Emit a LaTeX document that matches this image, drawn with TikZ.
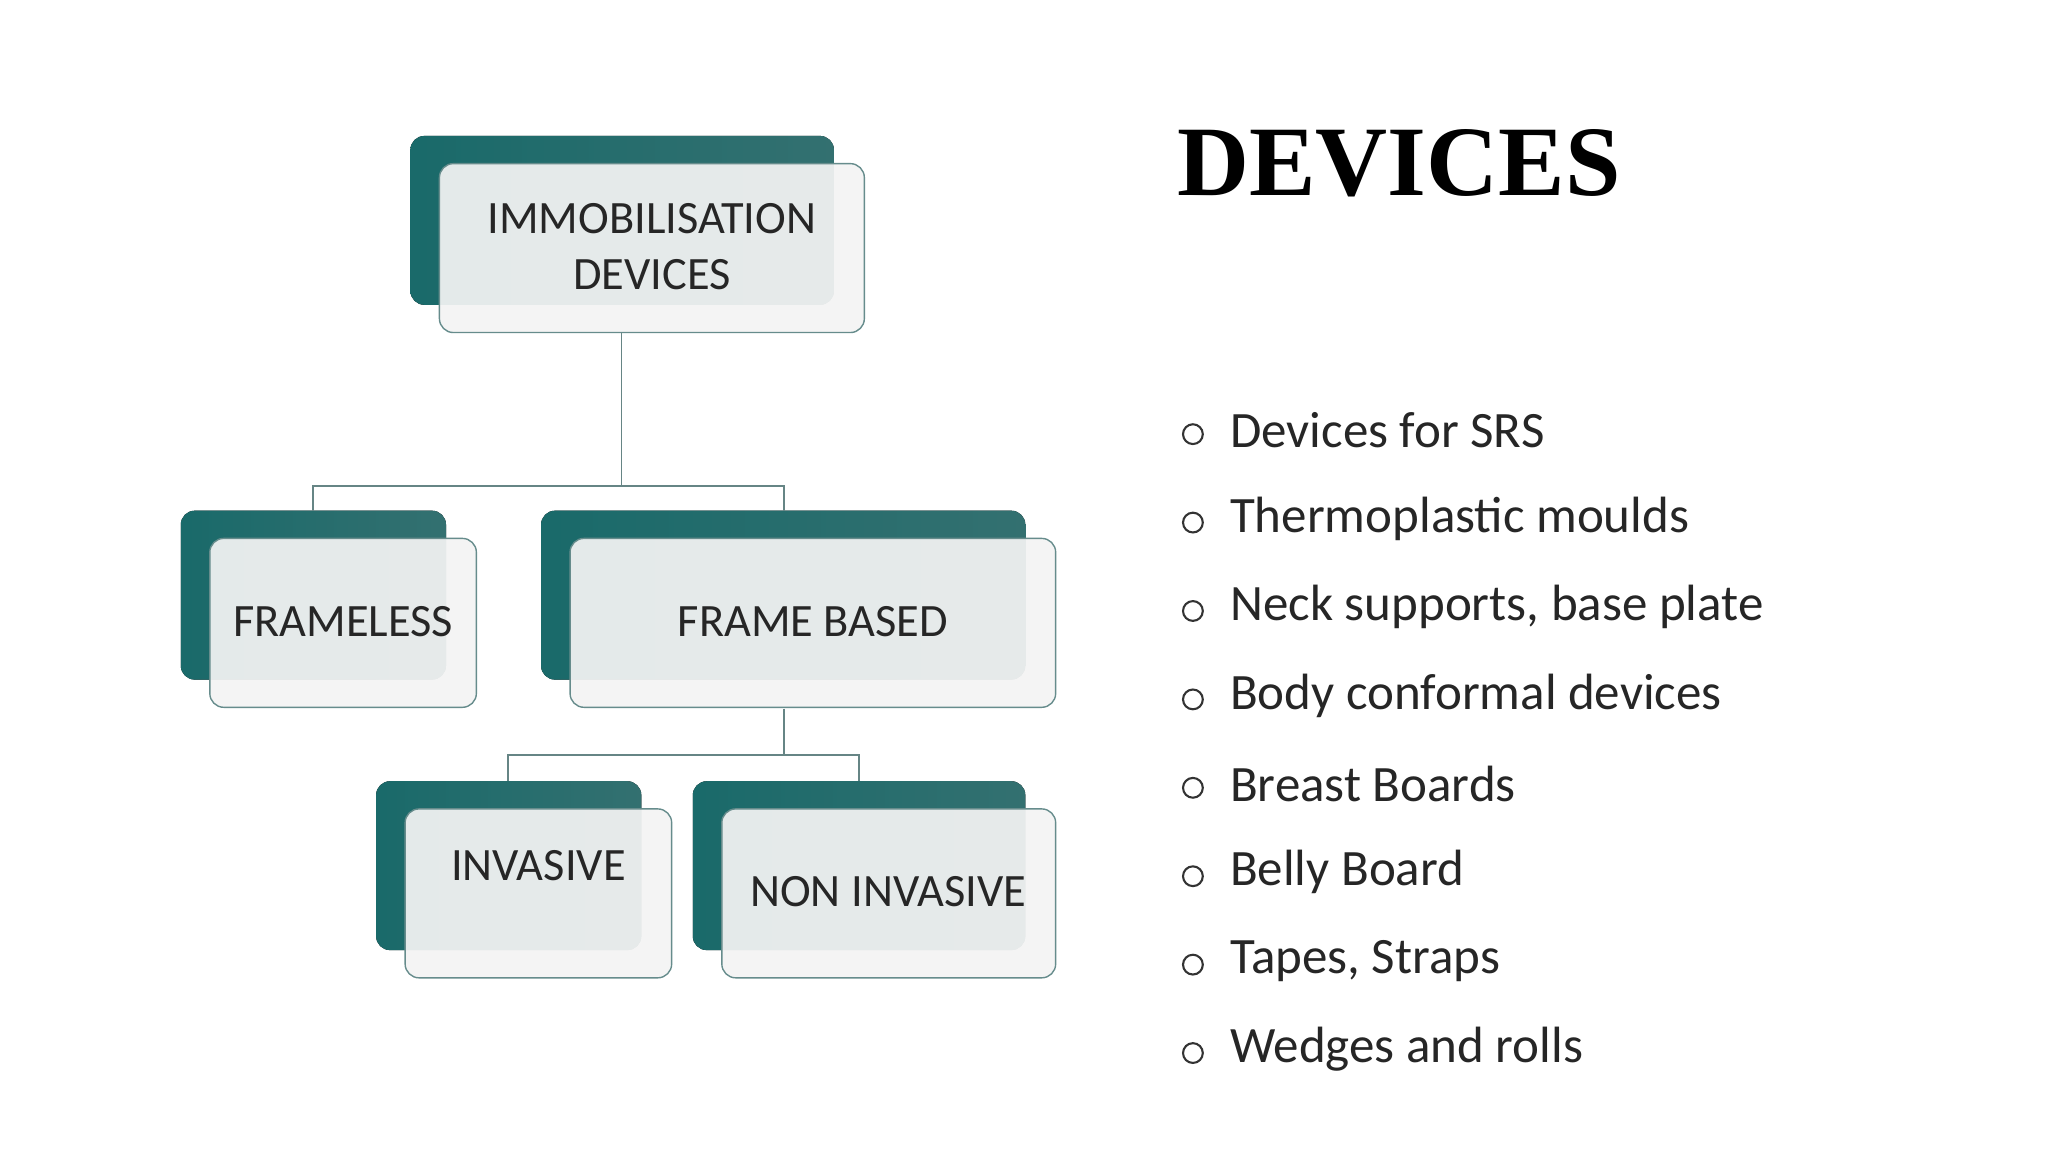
\documentclass[tikz,border=0pt]{standalone}
\usepackage{fontspec}
\setmainfont{Carlito}
\newfontfamily\titlefont{Liberation Serif}
\begin{document}
\begin{tikzpicture}[x=0.02cm,y=-0.02cm,
  back/.style={rounded corners=6pt,left color=teal!70!black!90,right color=teal!60!black!80,draw=none},
  front/.style={rounded corners=6pt,fill=gray!9!white,fill opacity=0.93,draw=teal!50!black!60,line width=0.6pt},
  lbl/.style={font=\fontsize{20}{24}\selectfont,text=black!85,align=center},
  conn/.style={draw=teal!40!black!60,line width=0.8pt},
  item/.style={anchor=west,font=\fontsize{22}{26}\selectfont,text=black!85}]
\useasboundingbox (0,0) rectangle (1552,873);
\fill[white] (0,0) rectangle (1552,873);
\newcommand\mybox[4]{%
  \fill[back] (#1,#2) rectangle (#3,#4);
  \path[front] (#1+22,#2+21) rectangle (#3+23,#4+21);
}
\mybox{311}{103}{632}{231}
\node[lbl] (ttop) at (494,187) {IMMOBILISATION\\DEVICES};
\mybox{137}{387}{338}{515}
\node[lbl] (tfl) at (260,471) {FRAMELESS};
\mybox{410}{387}{777}{515}
\node[lbl] (tfb) at (616,471) {FRAME BASED};
\mybox{285}{592}{486}{720}
\node[lbl] (tinv) at (408,656) {INVASIVE};
\mybox{525}{592}{777}{720}
\node[lbl] (tni) at (673,676) {NON INVASIVE};
\coordinate (a0) at (471,252);
\coordinate (a1) at (237,387);
\coordinate (a2) at (594,387);
\coordinate (b0) at (594,537);
\coordinate (b1) at (385,592);
\coordinate (b2) at (651,592);
\draw[conn] (a0) -- (471,368) -| (a1);
\draw[conn] (471,368) -| (a2);
\draw[conn] (b0) -- (594,572) -| (b1);
\draw[conn] (594,572) -| (b2);
\node[anchor=west,font=\titlefont\bfseries\fontsize{43}{48}\selectfont] (title) at (886,124) {DEVICES};
\foreach \t [count=\i from 0] in {Devices for SRS,Thermoplastic moulds,{Neck supports, base plate},Body conformal devices,Breast Boards,Belly Board,{Tapes, Straps},Wedges and rolls}{
  \node[circle,draw=black!80,line width=0.9pt,minimum size=0.3cm,inner sep=0] (c\i) at (904,{329+67*\i}) {};
  \node[item] (it\i) at (926,{326+67*\i}) {\t};
}
\end{tikzpicture}
\end{document}
